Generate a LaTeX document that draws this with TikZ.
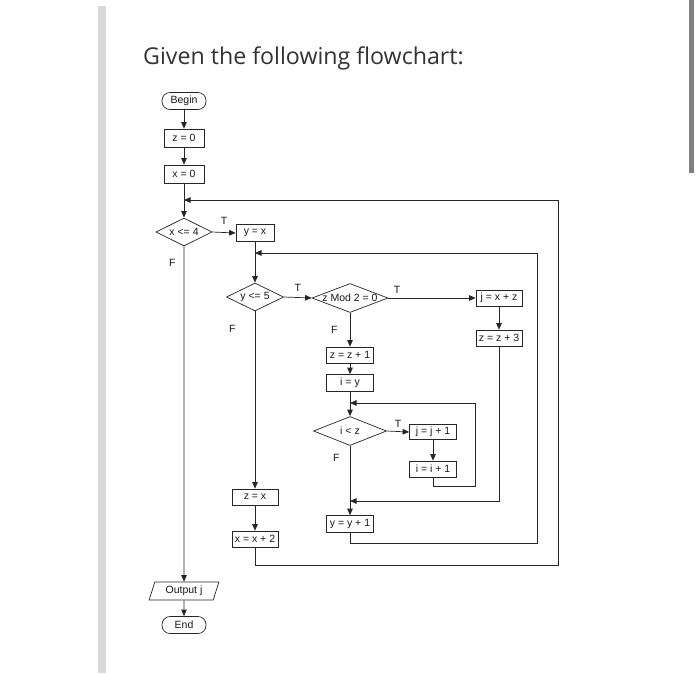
\documentclass[tikz,border=0pt]{standalone}
\usepackage{fontspec}
\setmainfont{Liberation Sans}
\newfontfamily\titlefont{Open Sans}
\usetikzlibrary{shapes.geometric,arrows.meta}
\tikzset{
  base/.style={draw=black!85, line width=0.7pt, inner sep=0pt, font=\fontsize{10.5}{11}\selectfont, text=black!90},
  proc/.style={base, rectangle, minimum width=47pt, minimum height=16pt},
  dec/.style={base, diamond, minimum width=56pt, minimum height=28pt},
  term/.style={base, rectangle, rounded corners=8pt, minimum width=44pt, minimum height=17pt},
  io/.style={base, trapezium, trapezium left angle=70, trapezium right angle=110, minimum width=70pt, minimum height=18pt, trapezium stretches=true},
  arr/.style={draw=black!85, line width=0.7pt, -{Triangle[length=6.5pt,width=5.5pt]}},
  lab/.style={font=\fontsize{10.5}{11}\selectfont, text=black!90, inner sep=0pt}
}
\begin{document}
\begin{tikzpicture}[x=1pt,y=-1pt]
\useasboundingbox (0,0) rectangle (700,673);
\fill[white] (0,0) rectangle (700,673);
% page decorations
\fill[black!15] (98,6) rectangle (106,673);
\fill[black!50] (689,0) rectangle (694,173);
\node[anchor=base west, inner sep=0pt, font=\titlefont\fontsize{23.2}{27}\selectfont, text=black!80] (title) at (143,64) {Given the following flowchart:};

% nodes
\node[term] (begin) at (184,101) {Begin};
\node[proc, minimum width=40pt, minimum height=18pt] (z0) at (184,138) {z = 0};
\node[proc, minimum width=40pt, minimum height=18pt] (x0) at (184,174) {x = 0};
\node[dec, label={[lab]center:x <= 4}] (x4) at (184,232) {};
\node[proc, minimum width=38pt, minimum height=17pt] (yx) at (255,233) {y = x};
\node[dec, minimum width=57pt, label={[lab]center:y <= 5}] (y5) at (255,297) {};
\node[dec, minimum width=76pt, minimum height=29pt, label={[lab]center:z Mod 2 = 0}] (mod) at (350,298) {};
\node[proc, minimum width=46pt] (jxz) at (499,298) {j = x + z};
\node[proc, minimum width=46pt] (zz3) at (499,338) {z = z + 3};
\node[proc, minimum width=47pt] (zz1) at (350,355) {z = z + 1};
\node[proc, minimum width=47pt, minimum height=17pt] (iy) at (350,383) {i = y};
\node[dec, minimum width=73pt, minimum height=29pt, label={[lab]center:i < z}] (iz) at (350,431) {};
\node[proc, minimum width=47pt, minimum height=15pt] (jj1) at (433,432) {j = j + 1};
\node[proc, minimum width=47pt] (ii1) at (433,469) {i = i + 1};
\node[proc, minimum width=46pt] (zx) at (255,497) {z = x};
\node[proc, minimum width=47pt, minimum height=17pt] (yy1) at (350,524) {y = y + 1};
\node[proc, minimum width=46pt] (xx2) at (255,539) {x = x + 2};
\node[io] (out) at (184,591) {Output j};
\node[term] (end) at (184,625) {End};

% junction coordinates
\coordinate (jx) at (184,200);
\coordinate (cx) at (558,565);
\coordinate (jy) at (255,253);
\coordinate (cy) at (537,543);
\coordinate (jm) at (350,501);
\coordinate (ji) at (350,403);
\coordinate (ci) at (475,486);

% connectors
\draw[arr] (begin) -- (z0);
\draw[arr] (z0) -- (x0);
\draw[arr] (x0) -- (x4);
\draw[arr] (xx2.south) |- (cx) |- (jx);
\draw[arr] (x4.east) -- node[lab, above=8pt] (t1) {T} (yx.west);
\draw[arr] (x4.south) -- node[lab, pos=0.05, left=8pt] (f1) {F} (out.north);
\draw[arr] (yx) -- (y5);
\draw[arr] (yy1.south) |- (cy) |- (jy);
\draw[arr] (y5.east) -- node[lab, above=6pt] (t2) {T} (mod.west);
\draw[arr] (y5.south) -- node[lab, pos=0.1, left=19pt] (f2) {F} (zx.north);
\draw[arr] (zx) -- (xx2);
\draw[arr] (mod.east) -- node[lab, pos=0.1, above=4pt] (t3) {T} (jxz.west);
\draw[arr] (mod.south) -- node[lab, midway, left=12pt] (f3) {F} (zz1.north);
\draw[arr] (jxz) -- (zz3);
\draw[arr] (zz3.south) |- (jm);
\draw[arr] (zz1) -- (iy);
\draw[arr] (iy) -- (iz);
\draw[arr] (ii1.south) |- (ci) |- (ji);
\draw[arr] (iz.east) -- node[lab, above=4pt] (t4) {T} (jj1.west);
\draw[arr] (jj1) -- (ii1);
\draw[arr] (iz.south) -- node[lab, pos=0.18, left=10pt] (f4) {F} (yy1.north);
\draw[arr] (out) -- (end);
\end{tikzpicture}
\end{document}
